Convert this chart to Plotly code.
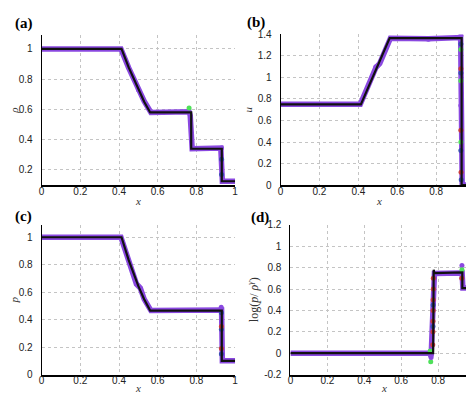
import plotly.graph_objects as go

# ---------------- data ----------------
# (a) density
x_rho_exact = [0.0, 0.413, 0.45, 0.50, 0.53, 0.561, 0.773, 0.773, 0.931, 0.931, 1.0]
rho_exact = [1.0, 1.0, 0.878, 0.730, 0.651, 0.580, 0.580, 0.340, 0.340, 0.125, 0.125]
x_rho_num = [0.0, 0.41, 0.45, 0.50, 0.53, 0.565, 0.762, 0.768, 0.778, 0.926, 0.932, 0.934, 1.0]
rho_num = [1.0, 1.0, 0.875, 0.735, 0.655, 0.580, 0.585, 0.56, 0.34, 0.345, 0.14, 0.125, 0.125]

# (b) velocity
x_u_exact = [0.0, 0.413, 0.561, 0.931, 0.931, 1.0]
u_exact = [0.75, 0.75, 1.365, 1.365, 0.0, 0.0]
x_u_num = [0.0, 0.41, 0.49, 0.51, 0.565, 0.76, 0.926, 0.930, 0.934, 1.0]
u_num = [0.75, 0.75, 1.09, 1.13, 1.365, 1.36, 1.37, 0.0, 0.0, 0.0]

# (c) pressure
x_p_exact = [0.0, 0.413, 0.45, 0.50, 0.53, 0.561, 0.931, 0.931, 1.0]
p_exact = [1.0, 1.0, 0.833, 0.644, 0.549, 0.466, 0.466, 0.1, 0.1]
x_p_num = [0.0, 0.41, 0.45, 0.49, 0.51, 0.53, 0.565, 0.926, 0.930, 0.934, 1.0]
p_num = [1.0, 1.0, 0.83, 0.66, 0.63, 0.55, 0.466, 0.47, 0.47, 0.1, 0.1]

# (d) entropy log(p/rho^gamma)
x_s_exact = [0.0, 0.773, 0.776, 0.78, 0.931, 0.931, 1.0]
s_exact = [0.0, 0.0, 0.78, 0.75, 0.755, 0.608, 0.608]
x_s_num = [0.0, 0.755, 0.762, 0.772, 0.78, 0.926, 0.930, 0.934, 1.0]
s_num = [0.0, 0.0, -0.03, 0.5, 0.745, 0.75, 0.75, 0.61, 0.608]

# scattered solution points near discontinuities (per panel, per colour)
pts = {
    "a": {
        "green": ([0.762], [0.61]),
        "blue": ([0.93, 0.93], [0.27, 0.17]),
        "purple": ([0.93, 0.50], [0.345, 0.73]),
    },
    "b": {
        "purple": ([0.927, 0.927, 0.49, 0.76], [1.39, 0.74, 1.10, 1.355]),
        "blue": ([0.927, 0.927, 0.927, 0.929], [1.31, 1.04, 0.32, 0.05]),
        "green": ([0.927, 0.927, 0.927], [1.26, 0.97, 0.40]),
        "red": ([0.927, 0.927, 0.928], [1.08, 0.51, 0.12]),
    },
    "c": {
        "purple": ([0.928, 0.49], [0.49, 0.66]),
        "blue": ([0.929, 0.929, 0.929], [0.45, 0.33, 0.15]),
        "red": ([0.929, 0.929], [0.35, 0.19]),
    },
    "d": {
        "green": ([0.757, 0.760], [0.02, -0.08]),
        "purple": ([0.762, 0.929], [-0.04, 0.82]),
        "red": ([0.771, 0.772, 0.772, 0.773, 0.773, 0.774, 0.774, 0.928],
                [0.08, 0.2, 0.3, 0.4, 0.5, 0.6, 0.7, 0.70]),
        "green2": ([0.929], [0.78]),
        "blue": ([0.772, 0.773], [0.25, 0.45]),
    },
}

colors = {"purple": "#8a48e0", "green": "#4ee05a", "green2": "#4ee05a",
          "red": "#c83c3c", "blue": "#3a4fb0"}

panels = [
    ("a", "x", "y", x_rho_num, rho_num, x_rho_exact, rho_exact),
    ("b", "x2", "y2", x_u_num, u_num, x_u_exact, u_exact),
    ("c", "x3", "y3", x_p_num, p_num, x_p_exact, p_exact),
    ("d", "x4", "y4", x_s_num, s_num, x_s_exact, s_exact),
]

fig = go.Figure()
for key, xa, ya, xn, yn, xe, ye in panels:
    fig.add_trace(go.Scatter(x=xn, y=yn, xaxis=xa, yaxis=ya, mode="lines",
                             line=dict(color=colors["purple"], width=5.5),
                             showlegend=False, hoverinfo="skip"))
    for cname, (px, py) in pts[key].items():
        fig.add_trace(go.Scatter(x=px, y=py, xaxis=xa, yaxis=ya, mode="markers",
                                 marker=dict(color=colors[cname], size=5),
                                 showlegend=False, hoverinfo="skip"))
    fig.add_trace(go.Scatter(x=xe, y=ye, xaxis=xa, yaxis=ya, mode="lines",
                             line=dict(color="#111111", width=2.2),
                             showlegend=False, hoverinfo="skip"))

H = 393.0
W = 474.0

def xd(a, b):
    return [a / W, b / W]

def yd(top, bottom):
    return [(H - bottom) / H, (H - top) / H]

tickfont = dict(family="Liberation Sans, Arial, sans-serif", size=10, color="#222222")
titlefont = dict(family="Liberation Serif, DejaVu Serif, serif", size=11, color="#333333")

def xaxis(dom, anchor):
    return dict(domain=dom, anchor=anchor, range=[0, 1.0], tickvals=[0, 0.2, 0.4, 0.6, 0.8, 1],
                ticktext=["0", "0.2", "0.4", "0.6", "0.8", "1"],
                showgrid=True, gridcolor="#c4c4c4", griddash="dot", gridwidth=1,
                zeroline=False, showline=True, linecolor="#000000", linewidth=1.5,
                ticks="", tickfont=tickfont, ticklabelstandoff=-4)

def yaxis(dom, anchor, rng, tv, tt, title, standoff, tf=titlefont):
    return dict(domain=dom, anchor=anchor, range=rng, tickvals=tv, ticktext=tt,
                showgrid=True, gridcolor="#c4c4c4", griddash="dot", gridwidth=1,
                zeroline=False, showline=True, linecolor="#000000", linewidth=1,
                ticks="", tickfont=tickfont, ticklabelstandoff=6,
                title=dict(text=title, font=tf, standoff=standoff))

fig.update_layout(
    width=474, height=393,
    margin=dict(l=0, r=0, t=0, b=0),
    paper_bgcolor="white", plot_bgcolor="white",
    xaxis=xaxis(xd(31, 227), "y"),
    yaxis=yaxis(yd(23, 177), "x", [0.1, 1.09], [0.2, 0.4, 0.6, 0.8, 1],
                ["0.2", "0.4", "0.6", "0.8", "1"], "<i>ρ</i>", 2),
    xaxis2=xaxis(xd(273, 470), "y2"),
    yaxis2=yaxis(yd(22, 177), "x2", [0, 1.4], [0, 0.2, 0.4, 0.6, 0.8, 1, 1.2, 1.4],
                 ["0", "0.2", "0.4", "0.6", "0.8", "1", "1.2", "1.4"], "<i>u</i>", 2),
    xaxis3=xaxis(xd(31, 227), "y3"),
    yaxis3=yaxis(yd(218, 372), "x3", [0, 1.09], [0, 0.2, 0.4, 0.6, 0.8, 1],
                 ["0", "0.2", "0.4", "0.6", "0.8", "1"], "<i>p</i>", 2),
    xaxis4=xaxis(xd(283, 470), "y4"),
    yaxis4=yaxis(yd(218, 372), "x4", [-0.2, 1.2], [-0.2, 0, 0.2, 0.4, 0.6, 0.8, 1, 1.2],
                 ["-0.2", "0", "0.2", "0.4", "0.6", "0.8", "1", "1.2"],
                 "log(<i>p</i>/ <i>ρ</i><sup><i>γ</i></sup>)", 2,
                 dict(family="Liberation Serif, DejaVu Serif, serif", size=12, color="#333333")),
)

# x-axis titles placed as annotations (tight under the tick labels)
for cx, cy in [(129, 193), (373, 193), (129, 386), (378, 386)]:
    fig.add_annotation(text="<i>x</i>", xref="paper", yref="paper",
                       x=cx / W, y=(H - cy) / H, xanchor="center", yanchor="middle",
                       showarrow=False, font=titlefont)

labelfont = dict(family="Liberation Serif, DejaVu Serif, serif", size=15, color="#000000")
for txt, x, y in [("(a)", 2, 11), ("(b)", 237, 10), ("(c)", 2, 209), ("(d)", 241, 210)]:
    fig.add_annotation(text="<b>%s</b>" % txt, xref="paper", yref="paper",
                       x=x / W, y=(H - y) / H, xanchor="left", yanchor="middle",
                       showarrow=False, font=labelfont)

fig.write_html("out.html")
